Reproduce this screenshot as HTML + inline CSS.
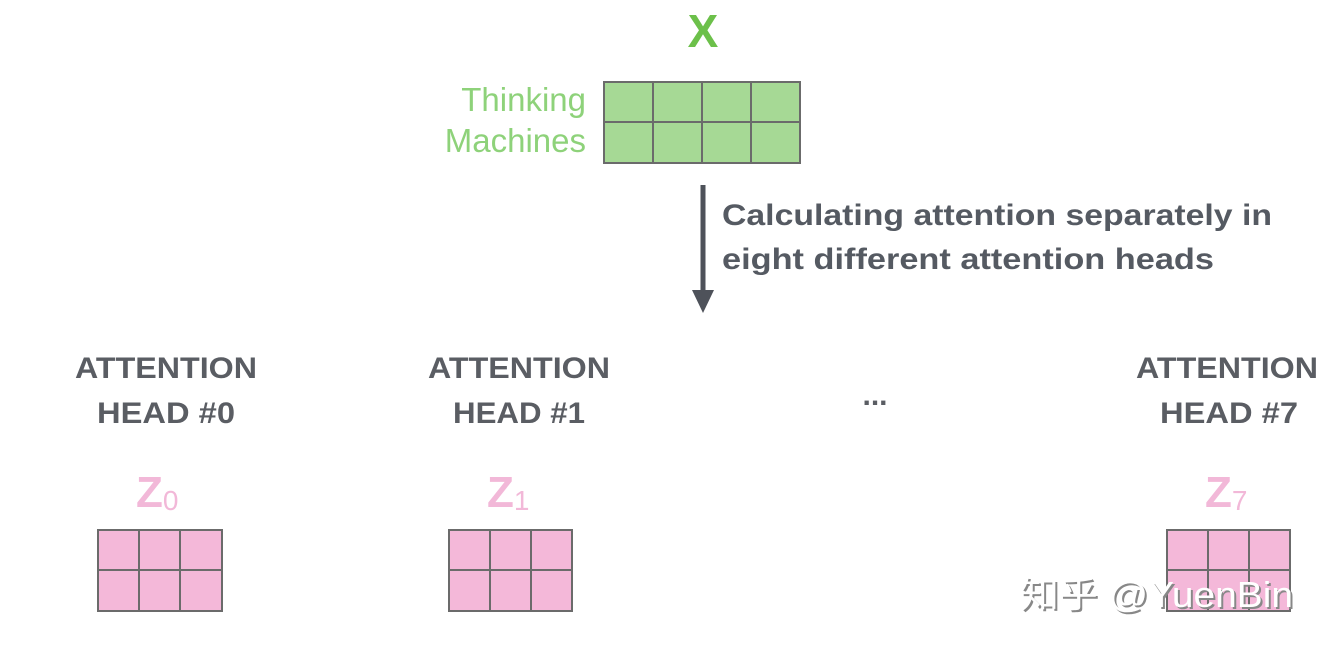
<!DOCTYPE html>
<html><head><meta charset="utf-8"><style>html,body{margin:0;padding:0;background:#fff}svg{display:block}</style></head>
<body>
<svg width="1330" height="650" viewBox="0 0 1330 650" xmlns="http://www.w3.org/2000/svg" font-family="Liberation Sans, sans-serif">
<defs>
<marker id="a" markerWidth="1" markerHeight="1"/>
</defs>
<text x="703" y="47" text-anchor="middle" font-size="46" font-weight="bold" fill="#6cc04a">X</text>
<text x="586" y="111" text-anchor="end" font-size="33" fill="#8ed27a">Thinking</text>
<text x="586" y="152" text-anchor="end" font-size="33" fill="#8ed27a">Machines</text>
<g stroke="#6b6b6b" stroke-width="2" fill="#a6d995">
<rect x="604" y="82" width="196" height="81"/>
<line x1="653" y1="82" x2="653" y2="163"/><line x1="702" y1="82" x2="702" y2="163"/><line x1="751" y1="82" x2="751" y2="163"/>
<line x1="604" y1="122" x2="800" y2="122"/>
</g>
<line x1="703" y1="185" x2="703" y2="292" stroke="#4e525a" stroke-width="5"/>
<polygon points="692,290 714,290 703,313" fill="#4e525a"/>
<g font-size="30" font-weight="bold" fill="#555a62">
<text x="722" y="225" textLength="550" lengthAdjust="spacingAndGlyphs">Calculating attention separately in</text>
<text x="722" y="269" textLength="492" lengthAdjust="spacingAndGlyphs">eight different attention heads</text>
</g>
<g font-size="30" font-weight="bold" fill="#5a5d63" text-anchor="middle">
<text x="166" y="378" textLength="182" lengthAdjust="spacingAndGlyphs">ATTENTION</text>
<text x="166" y="423" textLength="138" lengthAdjust="spacingAndGlyphs">HEAD #0</text>
<text x="519" y="378" textLength="182" lengthAdjust="spacingAndGlyphs">ATTENTION</text>
<text x="519" y="423" textLength="132" lengthAdjust="spacingAndGlyphs">HEAD #1</text>
<text x="1227" y="378" textLength="182" lengthAdjust="spacingAndGlyphs">ATTENTION</text>
<text x="1229" y="423" textLength="138" lengthAdjust="spacingAndGlyphs">HEAD #7</text>
<text x="875" y="405">...</text>
</g>
<g fill="#f2b8d8" font-weight="bold">
<text x="136" y="507" font-size="44">Z<tspan font-size="28" font-weight="normal" dy="3">0</tspan></text>
<text x="487" y="507" font-size="44">Z<tspan font-size="28" font-weight="normal" dy="3">1</tspan></text>
<text x="1205" y="507" font-size="44">Z<tspan font-size="28" font-weight="normal" dy="3">7</tspan></text>
</g>
<g stroke="#6b6b6b" stroke-width="2" fill="#f4b8d9">
<rect x="98" y="530" width="124" height="81"/><line x1="139" y1="530" x2="139" y2="611"/><line x1="180" y1="530" x2="180" y2="611"/><line x1="98" y1="570" x2="222" y2="570"/>
<rect x="449" y="530" width="123" height="81"/><line x1="490" y1="530" x2="490" y2="611"/><line x1="531" y1="530" x2="531" y2="611"/><line x1="449" y1="570" x2="572" y2="570"/>
<rect x="1167" y="530" width="123" height="81"/><line x1="1208" y1="530" x2="1208" y2="611"/><line x1="1249" y1="530" x2="1249" y2="611"/><line x1="1167" y1="570" x2="1290" y2="570"/>
</g>
<g font-size="36" font-family="Liberation Sans, Noto Sans CJK SC, sans-serif">
<text x="1022" y="609" fill="#888" textLength="273" lengthAdjust="spacingAndGlyphs">知乎 @YuenBin</text>
<text x="1020" y="607" fill="#fff" textLength="273" lengthAdjust="spacingAndGlyphs">知乎 @YuenBin</text>
</g>
</svg>
</body></html>
